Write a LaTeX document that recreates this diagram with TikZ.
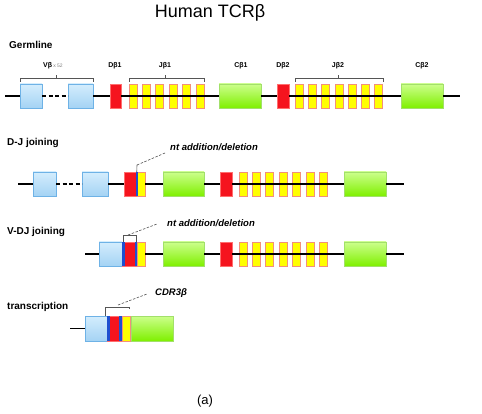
\documentclass[tikz,border=0pt]{standalone}
\usepackage{fontspec}
\setmainfont{Liberation Sans}
\usetikzlibrary{fit}
\definecolor{vtop}{HTML}{D4EDFD}
\definecolor{vbot}{HTML}{A4D3F4}
\definecolor{vedge}{HTML}{6EB2E6}
\definecolor{dred}{HTML}{F5141E}
\definecolor{dedge}{HTML}{FF6E6E}
\definecolor{jyel}{HTML}{FFFF00}
\definecolor{jedge}{HTML}{F2907A}
\definecolor{ctop}{HTML}{CCFF8C}
\definecolor{cbot}{HTML}{7FF000}
\definecolor{cedge}{HTML}{A2E06A}
\definecolor{bstripe}{HTML}{1F4FD0}
\definecolor{brk}{HTML}{555555}
\newcommand\gbox[6]{\node[#1,fit={(#3,#5) (#4,#6)}] (#2) {};}
\begin{document}
\begin{tikzpicture}[x=1pt,y=-1pt,
  box/.style={inner sep=0pt,outer sep=0pt,line width=0.7pt},
  vbox/.style={box,draw=vedge,top color=vtop,bottom color=vbot},
  dbox/.style={box,draw=dedge,fill=dred},
  jbox/.style={box,draw=jedge,fill=jyel},
  cbox/.style={box,draw=cedge,top color=ctop,bottom color=cbot},
  sbox/.style={box,fill=bstripe},
  gline/.style={line width=1.3pt,black},
  gdash/.style={gline,dashed,dash pattern=on 4pt off 2.5pt},
  brace/.style={brk,line width=0.6pt},
  callout/.style={brk,line width=0.6pt,dashed,dash pattern=on 2.5pt off 1.5pt},
  rowlabel/.style={anchor=west,inner sep=0pt,font=\fontsize{10}{12}\selectfont\bfseries},
  genlabel/.style={inner sep=0pt,font=\fontsize{7}{8}\selectfont\bfseries},
  note/.style={anchor=west,inner sep=0pt,font=\fontsize{9.5}{11}\selectfont\bfseries\itshape}]
\useasboundingbox (0,0) rectangle (482,414);

% title
\node[inner sep=0pt,font=\fontsize{18}{20}\selectfont] (title) at (210,13) {Human TCRβ};

% ---------------- Germline ----------------
\node[rowlabel] (lab-g) at (9,45) {Germline};
\coordinate (g-start) at (5,96);
\coordinate (g-end) at (460,96);
\gbox{vbox}{g-v1}{20}{42}{84}{108}
\gbox{vbox}{g-v2}{68}{93}{84}{108}
\gbox{dbox}{g-d1}{110}{121}{84}{108}
\foreach \i in {0,...,5}{
  \pgfmathsetmacro\xa{129+13.4*\i}\pgfmathsetmacro\xb{\xa+8}
  \gbox{jbox}{gj1-\i}{\xa}{\xb}{84}{108}}
\gbox{cbox}{g-c1}{219}{261}{84}{108}
\gbox{dbox}{g-d2}{277}{289}{84}{108}
\foreach \i in {0,...,6}{
  \pgfmathsetmacro\xa{295+13.3*\i}\pgfmathsetmacro\xb{\xa+8}
  \gbox{jbox}{gj2-\i}{\xa}{\xb}{84}{108}}
\gbox{cbox}{g-c2}{401}{443}{84}{108}
\draw[gline] (g-start) -- (g-v1.west);
\draw[gdash] (g-v1.east) -- (g-v2.west);
\draw[gline] (g-v2.east) -- (g-d1.west);
\draw[gline] (g-d1.east) -- (gj1-5.east) -- (g-c1.west);
\draw[gline] (g-c1.east) -- (g-d2.west);
\draw[gline] (g-d2.east) -- (gj2-6.east) -- (g-c2.west);
\draw[gline] (g-c2.east) -- (g-end);
% braces
\draw[brace] (20,82) -- (20,78) -- (93,78) -- (93,82) (56.5,78) -- (56.5,75);
\draw[brace] (129,82) -- (129,78) -- (204,78) -- (204,82) (165,78) -- (165,75);
\draw[brace] (295,82) -- (295,78) -- (383,78) -- (383,82) (338,78) -- (338,75);
\node[genlabel,anchor=west] (l-v) at (43,66) {Vβ\,{\fontsize{5}{6}\selectfont\mdseries\color{gray}x 52}};
\node[genlabel] (l-d1) at (115,66) {Dβ1};
\node[genlabel] (l-j1) at (165,66) {Jβ1};
\node[genlabel] (l-c1) at (241,66) {Cβ1};
\node[genlabel] (l-d2) at (283,66) {Dβ2};
\node[genlabel] (l-j2) at (338,66) {Jβ2};
\node[genlabel] (l-c2) at (422,66) {Cβ2};

% ---------------- D-J joining ----------------
\node[rowlabel] (lab-dj) at (7,143) {D-J joining};
\coordinate (b-start) at (18,184);
\coordinate (b-end) at (404,184);
\gbox{vbox}{b-v1}{33}{56}{172}{196}
\gbox{vbox}{b-v2}{82}{108}{172}{196}
\gbox{dbox}{b-d}{124}{136}{172}{196}
\gbox{jbox}{b-j}{137}{145}{172}{196}
\gbox{sbox}{b-s}{135.5}{138}{172}{196}
\gbox{cbox}{b-c1}{163}{204}{172}{196}
\gbox{dbox}{b-d2}{220}{232}{172}{196}
\foreach \i in {0,...,6}{
  \pgfmathsetmacro\xa{239+13.4*\i}\pgfmathsetmacro\xb{\xa+8}
  \gbox{jbox}{bj-\i}{\xa}{\xb}{172}{196}}
\gbox{cbox}{b-c2}{344}{386}{172}{196}
\draw[gline] (b-start) -- (b-v1.west);
\draw[gdash] (b-v1.east) -- (b-v2.west);
\draw[gline] (b-v2.east) -- (b-d.west);
\draw[gline] (b-j.east) -- (b-c1.west);
\draw[gline] (b-c1.east) -- (b-d2.west);
\draw[gline] (b-d2.east) -- (bj-6.east) -- (b-c2.west);
\draw[gline] (b-c2.east) -- (b-end);
\coordinate (b-k) at (137,165);
\node[note] (b-note) at (170,147) {nt addition/deletion};
\draw[brace] (b-s.north) -- (b-k);
\draw[callout] (b-k) -- (165,153);

% ---------------- V-DJ joining ----------------
\node[rowlabel] (lab-vdj) at (7,232) {V-DJ joining};
\coordinate (c-start) at (85,254);
\coordinate (c-end) at (404,254);
\gbox{vbox}{c-v}{99}{122}{242}{266}
\gbox{dbox}{c-d}{122}{137}{242}{266}
\gbox{sbox}{c-s1}{122}{124.5}{242}{266}
\gbox{sbox}{c-s2}{134.5}{137}{242}{266}
\gbox{jbox}{c-j}{137}{145}{242}{266}
\gbox{cbox}{c-c1}{163}{204}{242}{266}
\gbox{dbox}{c-d2}{220}{232}{242}{266}
\foreach \i in {0,...,6}{
  \pgfmathsetmacro\xa{239+13.4*\i}\pgfmathsetmacro\xb{\xa+8}
  \gbox{jbox}{cj-\i}{\xa}{\xb}{242}{266}}
\gbox{cbox}{c-c2}{344}{386}{242}{266}
\draw[gline] (c-start) -- (c-v.west);
\draw[gline] (c-j.east) -- (c-c1.west);
\draw[gline] (c-c1.east) -- (c-d2.west);
\draw[gline] (c-d2.east) -- (cj-6.east) -- (c-c2.west);
\draw[gline] (c-c2.east) -- (c-end);
\draw[brace] (123,242) -- (123,235) -- (136,235) -- (136,242);
\coordinate (c-k) at (128,235);
\node[note] (c-note) at (167,223) {nt addition/deletion};
\draw[callout] (c-k) -- (157,224);

% ---------------- transcription ----------------
\node[rowlabel] (lab-tr) at (7,307) {transcription};
\coordinate (t-start) at (70,328.5);
\gbox{vbox}{t-v}{85}{107}{316}{341}
\gbox{dbox}{t-d}{107}{122}{316}{341}
\gbox{sbox}{t-s1}{107}{109.5}{316}{341}
\gbox{sbox}{t-s2}{119}{121.5}{316}{341}
\gbox{jbox}{t-j}{122}{130}{316}{341}
\gbox{cbox}{t-c}{131}{173}{316}{341}
\draw[gline] (t-start) -- (t-v.west);
\draw[brace] (105,316) -- (105,307) -- (129,307) -- (129,309);
\coordinate (t-k) at (118,305);
\node[note] (t-note) at (155,293) {CDR3β};
\draw[callout] (t-k) -- (147,294);

\node[inner sep=0pt,font=\fontsize{13}{15}\selectfont] (cap) at (205,401) {(a)};
\end{tikzpicture}
\end{document}
